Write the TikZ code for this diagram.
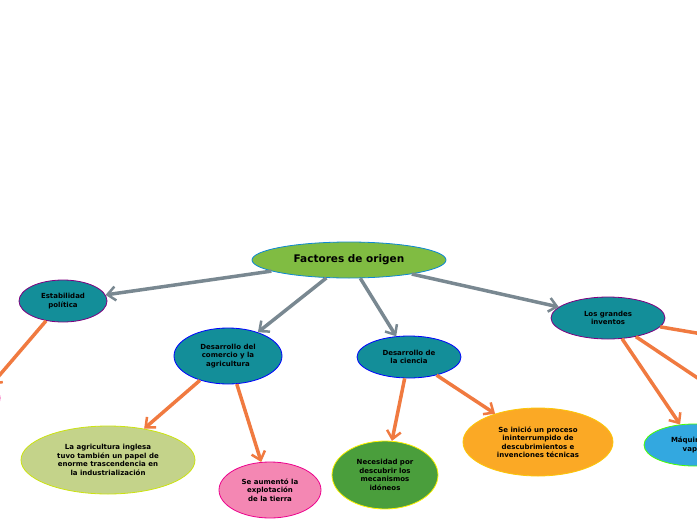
\documentclass[tikz,border=0pt]{standalone}
\usepackage{fontspec}
\setmainfont{DejaVu Sans}
\usetikzlibrary{shapes.geometric,arrows.meta}
\definecolor{teal1}{HTML}{138E99}
\definecolor{gr1}{HTML}{80BC42}
\definecolor{gray1}{HTML}{798891}
\definecolor{or1}{HTML}{F07A40}
\tikzset{
 el/.style={ellipse,draw,line width=0.8pt,inner sep=0pt,align=center,font=\bfseries\fontsize{7}{8.5}\selectfont},
 ga/.style={draw=gray1,line width=3.5pt,-{Straight Barb[length=8pt,width=14pt,line width=2.5pt]}},
 oa/.style={draw=or1,line width=3.5pt,-{Straight Barb[length=8pt,width=14pt,line width=2.5pt]}},
}
\begin{document}
\begin{tikzpicture}[x=1pt,y=-1pt]
\useasboundingbox (0,0) rectangle (697,520);
\clip (0,0) rectangle (697,520);
\node[el,fill=gr1,draw=cyan!70!blue,minimum width=194pt,minimum height=36pt,font=\bfseries\fontsize{10.5}{12}\selectfont] (f) at (349,260) {Factores de origen};
\node[el,fill=teal1,draw=violet,minimum width=88pt,minimum height=42pt] (e) at (63,301) {Estabilidad\\política};
\node[el,fill=teal1,draw=blue,minimum width=108pt,minimum height=56pt] (c) at (228,356) {Desarrollo del\\comercio y la\\agricultura};
\node[el,fill=teal1,draw=blue,minimum width=104pt,minimum height=42pt] (s) at (409,357) {Desarrollo de\\la ciencia};
\node[el,fill=teal1,draw=violet,minimum width=114pt,minimum height=42pt] (i) at (608,318) {Los grandes\\inventos};
\node[el,fill={rgb,255:red,196;green,211;blue,138},draw=yellow!80!green,minimum width=174pt,minimum height=68pt] (a) at (108,460) {La agricultura inglesa\\tuvo también un papel de\\enorme trascendencia en\\la industrialización};
\node[el,fill={rgb,255:red,244;green,135;blue,179},draw=magenta,minimum width=102pt,minimum height=56pt] (t) at (270,490) {Se aumentó la\\explotación\\de la tierra};
\node[el,fill={rgb,255:red,74;green,158;blue,60},draw=yellow,minimum width=106pt,minimum height=68pt] (n) at (385,475) {Necesidad por\\descubrir los\\mecanismos\\idóneos};
\node[el,fill={rgb,255:red,251;green,169;blue,37},draw=yellow!60!orange,minimum width=150pt,minimum height=68pt] (p) at (538,442) {Se inició un proceso\\ininterrumpido de\\descubrimientos e\\invenciones técnicas};
\node[el,fill={rgb,255:red,51;green,168;blue,224},draw=green!70!yellow,minimum width=100pt,minimum height=42pt] (m) at (694,445) {Máquina de\\vapor};
\node[el,fill=magenta,draw=magenta,minimum width=40pt,minimum height=30pt] (x) at (-20,398) {};
\coordinate (r1) at (720,337);
\coordinate (r2) at (720,393);
\draw[ga] (f) -- (e);
\draw[ga] (f) -- (c);
\draw[ga] (f) -- (s);
\draw[ga] (f) -- (i);
\draw[oa] (e) -- (x);
\draw[oa] (c) -- (a);
\draw[oa] (c) -- (t);
\draw[oa] (s) -- (n);
\draw[oa] (s) -- (p);
\draw[oa] (i) -- (m);
\draw[oa] (i) -- (r1);
\draw[oa] (i) -- (r2);
\end{tikzpicture}
\end{document}
